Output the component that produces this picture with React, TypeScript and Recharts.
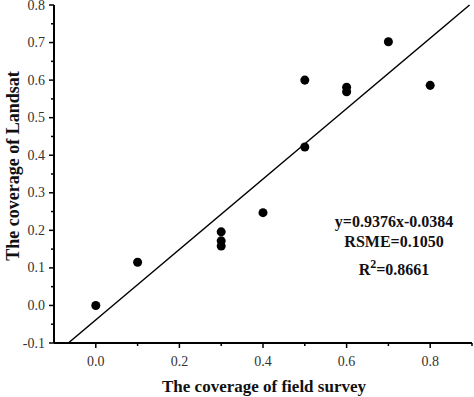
import { ScatterChart, Scatter, XAxis, YAxis, ReferenceLine, Label } from 'recharts';

// field survey coverage (x) vs Landsat coverage (y)
const fieldSurvey = [0.0, 0.1, 0.3, 0.3, 0.3, 0.4, 0.5, 0.5, 0.6, 0.6, 0.7, 0.8];
const landsat = [0.0, 0.115, 0.196, 0.172, 0.158, 0.247, 0.6, 0.422, 0.581, 0.569, 0.702, 0.586];

const xTicks = [0, 0.1, 0.2, 0.3, 0.4, 0.5, 0.6, 0.7, 0.8, 0.9];
const yTicks = [-0.1, -0.05, 0, 0.05, 0.1, 0.15, 0.2, 0.25, 0.3, 0.35, 0.4, 0.45, 0.5, 0.55, 0.6, 0.65, 0.7, 0.75, 0.8];

const SLOPE = 0.9376;
const INTERCEPT = -0.0384;
const Y_MIN = -0.1;
const Y_MAX = 0.8;

const eqLines = ['y=0.9376x-0.0384', 'RSME=0.1050'];

const points = fieldSurvey.map((x, i) => ({ x, y: landsat[i] }));

const FONT = '"Liberation Serif", "Times New Roman", serif';

function YTick({ x, y, payload }: any) {
  const v = payload.value as number;
  const major = Math.round(v * 100) % 10 === 0;
  return (
    <g>
      <line x1={x} x2={x - (major ? 5 : 3)} y1={y} y2={y} stroke="#000" strokeWidth={1.5} />
      {major && (
        <text x={x - 9} y={y} textAnchor="end" dominantBaseline="central"
          fontFamily={FONT} fontSize={14} fill="#333">
          {v.toFixed(1)}
        </text>
      )}
    </g>
  );
}

function XTick({ x, y, payload }: any) {
  const v = payload.value as number;
  const major = Math.round(v * 10) % 2 === 0;
  return (
    <g>
      <line x1={x} x2={x} y1={y} y2={y + (major ? 5 : 3)} stroke="#000" strokeWidth={1.5} />
      {major && (
        <text x={x} y={y + 18} textAnchor="middle" dominantBaseline="central"
          fontFamily={FONT} fontSize={14} fill="#333">
          {v.toFixed(1)}
        </text>
      )}
    </g>
  );
}

function YTitle() {
  const cx = 13;
  const cy = 166;
  return (
    <text x={cx} y={cy} transform={`rotate(-90 ${cx} ${cy})`} textAnchor="middle"
      dominantBaseline="central" fontFamily={FONT} fontSize={18} fontWeight="bold" fill="#111">
      The coverage of Landsat
    </text>
  );
}

function XTitle() {
  return (
    <text x={264} y={386} textAnchor="middle" dominantBaseline="central"
      fontFamily={FONT} fontSize={17} fontWeight="bold" fill="#111">
      The coverage of field survey
    </text>
  );
}

export default function App() {
  const x0 = (Y_MIN - INTERCEPT) / SLOPE;
  const x1 = (Y_MAX - INTERCEPT) / SLOPE;
  const eqStyle: React.CSSProperties = {
    position: 'absolute', left: 300, width: 188, textAlign: 'center',
    fontFamily: FONT, fontSize: 16, fontWeight: 'bold', lineHeight: '18px', color: '#111',
  };
  return (
    <div style={{ position: 'absolute', left: 0, top: 0, width: 474, height: 397, background: '#fff' }}>
      <ScatterChart width={474} height={397} margin={{ top: 5, right: 2, bottom: 0, left: 0 }}>
        <XAxis
          type="number" dataKey="x" domain={[-0.1, 0.9]} ticks={xTicks} interval={0}
          allowDataOverflow height={54} tickSize={0} tickMargin={0} tickLine={false}
          axisLine={{ stroke: '#000', strokeWidth: 2 }} tick={<XTick />}
        >
          <Label content={<XTitle />} />
        </XAxis>
        <YAxis
          type="number" dataKey="y" domain={[Y_MIN, Y_MAX]} ticks={yTicks} interval={0}
          allowDataOverflow width={54} tickSize={0} tickMargin={0} tickLine={false}
          axisLine={{ stroke: '#000', strokeWidth: 2 }} tick={<YTick />}
        >
          <Label content={<YTitle />} />
        </YAxis>
        <ReferenceLine
          segment={[{ x: x0, y: Y_MIN }, { x: x1, y: Y_MAX }]}
          stroke="#000" strokeWidth={1.5}
        />
        <Scatter data={points} fill="#000" isAnimationActive={false} />
      </ScatterChart>
      <div style={{ ...eqStyle, top: 213 }}>{eqLines[0]}</div>
      <div style={{ ...eqStyle, top: 233 }}>{eqLines[1]}</div>
      <div style={{ ...eqStyle, top: 261 }}>
        R<sup style={{ fontSize: 12, verticalAlign: 'baseline', position: 'relative', top: -7 }}>2</sup>=0.8661
      </div>
    </div>
  );
}
